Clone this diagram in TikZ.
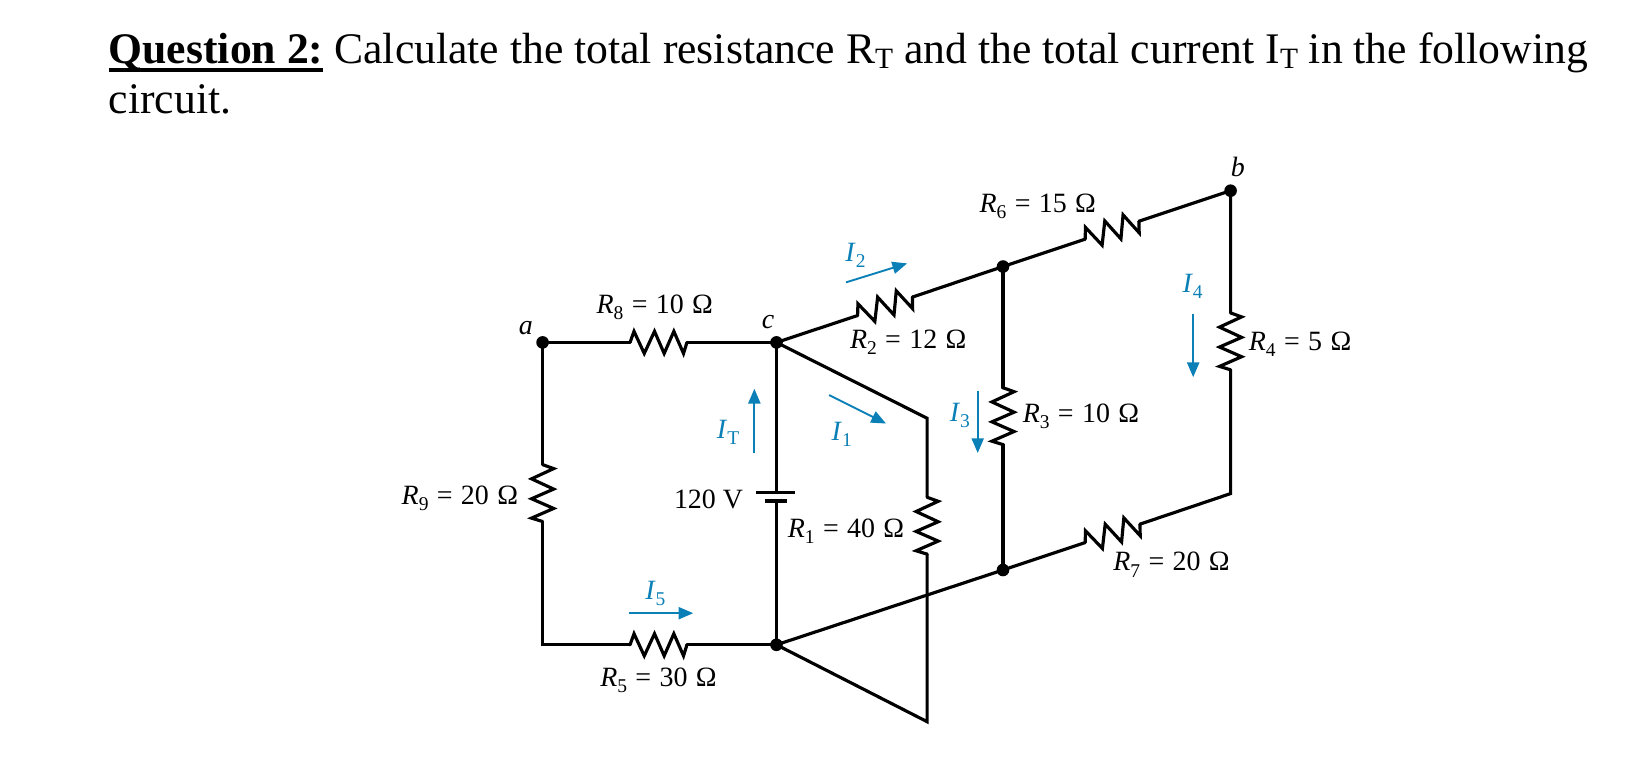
\documentclass[tikz,border=0pt]{standalone}
\usepackage{fontspec}
\setmainfont{Liberation Serif}
\usetikzlibrary{calc,arrows.meta}
\definecolor{cblue}{RGB}{10,128,182}
\newsavebox{\qbox}
\newcommand{\qhead}{\sbox{\qbox}{\textbf{Question 2:}}\rlap{\raisebox{-8.7pt}{\rule{\wd\qbox}{4.2pt}}}\usebox{\qbox}}
\newcommand{\sbs}[1]{\raisebox{-0.22em}{\fontsize{18.5}{20}\selectfont #1}}
\newcommand{\rv}[2]{\textit{R}\sbs{#1}\hspace{.3em}=\hspace{.3em}#2\hspace{.3em}Ω}
\newcommand{\cur}[2]{\textit{#1}\sbs{#2}}
% zigzag resistor between two named coordinates
\newcommand{\zz}[2]{\draw[wire]
 (#1) -- ($(#1)!.07!(#2)!10.5pt!90:(#2)$) -- ($(#1)!.25!(#2)!10.5pt!-90:(#2)$)
 -- ($(#1)!.43!(#2)!10.5pt!90:(#2)$) -- ($(#1)!.60!(#2)!10.5pt!-90:(#2)$)
 -- ($(#1)!.77!(#2)!10.5pt!90:(#2)$) -- ($(#1)!.94!(#2)!10.5pt!-90:(#2)$) -- (#2);}
\tikzset{
 wire/.style={line width=3pt,line join=miter,line cap=round},
 plate/.style={line width=3pt,line cap=butt},
 dotnode/.style={circle,fill=black,inner sep=0pt,minimum size=12pt},
 lab/.style={inner sep=0pt,font=\fontsize{26.5}{28}\selectfont},
 vlab/.style={lab,font=\fontsize{26.5}{28}\selectfont\itshape},
 clab/.style={lab,text=cblue},
 curarrow/.style={cblue,line width=1.8pt,-{Triangle[length=14pt,width=11.5pt]}},
 titletext/.style={inner sep=0pt,anchor=base west,font=\fontsize{41.45}{48}\selectfont}
}
\begin{document}
\begin{tikzpicture}[x=1pt,y=-1pt]
\useasboundingbox (0,0) rectangle (1568,738);
% title
\node[titletext] (t1) at (103,60) {\qhead\ Calculate the total resistance R\raisebox{-0.12em}{\fontsize{28}{30}\selectfont T} and the total current I\raisebox{-0.12em}{\fontsize{28}{30}\selectfont T} in the following};
\node[titletext] (t2) at (103,108) {circuit.};
% junctions and corners
\node[dotnode] (a) at (515,325) {};
\node[dotnode] (c) at (737,325) {};
\node[dotnode] (d) at (737,612) {};
\node[dotnode] (e) at (952,253) {};
\node[dotnode] (b) at (1168,181) {};
\node[dotnode] (f) at (952,541) {};
\coordinate (ll) at (515,612);
\coordinate (r1t) at (880,397);
\coordinate (r1c) at (880,685);
\coordinate (r7c) at (1168,468.5);
% resistor ends
\coordinate (r8s) at (598,325);   \coordinate (r8e) at (652,325);
\coordinate (r5s) at (598,612);   \coordinate (r5e) at (652,612);
\coordinate (r9s) at (515,441);   \coordinate (r9e) at (515,495);
\coordinate (r2s) at (814,299.5); \coordinate (r2e) at (866,282);
\coordinate (r6s) at (1030,227);  \coordinate (r6e) at (1081,210);
\coordinate (r7s) at (1030,515);  \coordinate (r7e) at (1082,497.5);
\coordinate (r4s) at (1168,297);  \coordinate (r4e) at (1168,351);
\coordinate (r3s) at (952,368);   \coordinate (r3e) at (952,422);
\coordinate (r1s) at (880,472);   \coordinate (r1f) at (880,526);
% battery
\coordinate (bl) at (718,467.5);  \coordinate (br) at (755,467.5);
\coordinate (sl) at (726,475.5);  \coordinate (sr) at (747,475.5);
\coordinate (bt) at (737,467.5);  \coordinate (bb) at (737,475.5);
% wires
\draw[wire] (c.center) -- (bt);
\draw[wire] (bb) -- (d.center);
\draw[plate] (bl) -- (br);
\draw[plate] (sl) -- (sr);
\draw[wire] (r9e) -- (ll) -- (r5s);
\draw[wire] (r9s) -- (a.center) -- (r8s);
\draw[wire] (r8e) -- (c.center);
\draw[wire] (r5e) -- (d.center);
\draw[wire] (c.center) -- (r2s);
\draw[wire] (r2e) -- (e.center) -- (r6s);
\draw[wire] (r6e) -- (b.center) -- (r4s);
\draw[wire] (r4e) -- (r7c) -- (r7e);
\draw[wire] (r7s) -- (f.center) -- (d.center);
\draw[wire] (e.center) -- (r3s);
\draw[wire] (r3e) -- (f.center);
\draw[wire] (c.center) -- (r1t) -- (r1s);
\draw[wire] (r1f) -- (r1c) -- (d.center);
\zz{r8s}{r8e}\zz{r5s}{r5e}\zz{r9s}{r9e}\zz{r2s}{r2e}\zz{r6s}{r6e}
\zz{r7s}{r7e}\zz{r4s}{r4e}\zz{r3s}{r3e}\zz{r1s}{r1f}
% current arrows
\coordinate (i2s) at (803,268);\coordinate (i2e) at (861,250);
\coordinate (i1s) at (787,375);\coordinate (i1e) at (841,402);
\coordinate (its) at (716,430);\coordinate (ite) at (716,369);
\coordinate (i3s) at (928,371);\coordinate (i3e) at (928,430);
\coordinate (i4s) at (1132.5,298);\coordinate (i4e) at (1132.5,358);
\coordinate (i5s) at (597,582);\coordinate (i5e) at (658,582);
\draw[curarrow] (i2s) -- (i2e);
\draw[curarrow] (i1s) -- (i1e);
\draw[curarrow] (its) -- (ite);
\draw[curarrow] (i3s) -- (i3e);
\draw[curarrow] (i4s) -- (i4e);
\draw[curarrow] (i5s) -- (i5e);
% labels
\node[vlab] (la) at (499,311) {a};
\node[vlab] (lc) at (729,306) {c};
\node[vlab] (lb) at (1175,158) {b};
\node[lab] (l8) at (621.5,292) {\rv{8}{10}};
\node[lab] (l6) at (985,196) {\rv{6}{15}};
\node[lab] (l2) at (862,325) {\rv{2}{12}};
\node[lab] (l3) at (1026,395) {\rv{3}{10}};
\node[lab] (l4) at (1234,327) {\rv{4}{5}};
\node[lab] (l9) at (436.5,473) {\rv{9}{20}};
\node[lab] (l1) at (803,504) {\rv{1}{40}};
\node[lab] (l7) at (1112,536) {\rv{7}{20}};
\node[lab] (l5) at (625,646) {\rv{5}{30}};
\node[lab] (lv) at (672.5,474) {120 V};
\node[clab] (c2) at (812,242) {\cur{I}{2}};
\node[clab] (c1) at (799,412) {\cur{I}{1}};
\node[clab] (ct) at (691,410) {\cur{I}{T}};
\node[clab] (c3) at (911,394) {\cur{I}{3}};
\node[clab] (c4) at (1132,272) {\cur{I}{4}};
\node[clab] (c5) at (622,563) {\cur{I}{5}};
\end{tikzpicture}
\end{document}
